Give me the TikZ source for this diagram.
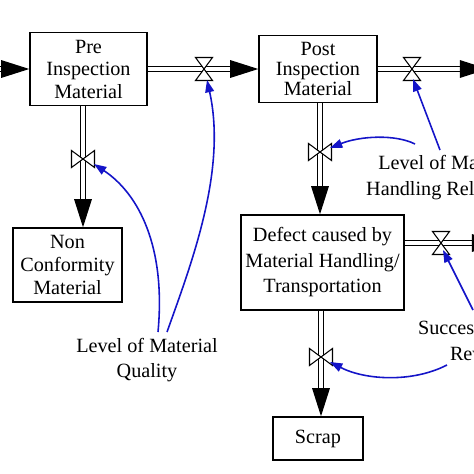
\documentclass[tikz,border=0pt]{standalone}
\usepackage{fontspec}
\setmainfont{Liberation Serif}
\usetikzlibrary{arrows.meta,calc}
\definecolor{linkblue}{RGB}{20,20,200}

\begin{document}
\begin{tikzpicture}[
    x=0.02cm, y=-0.02cm,
    every node/.style={align=center, inner sep=0pt, font=\fontsize{11.5}{13}\selectfont},
    stock/.style={draw, line width=0.8pt},
    label/.style={font=\fontsize{11.5}{14.5}\selectfont},
    flow/.style={double, double distance=1.8pt, line width=0.7pt, -{Triangle[length=16pt,width=10pt]}},
    link/.style={linkblue, line width=0.9pt, -{Triangle[length=7pt,width=5pt]}},
    valve/.pic={\draw[fill=white, line width=0.6pt] (-8.5,-11.5) -- (8.5,-11.5) -- (-8.5,11.5) -- (8.5,11.5) -- cycle;}
]
\useasboundingbox (0,0) rectangle (474,474);
\clip (0,0) rectangle (474,474);

% stocks
\node[stock, minimum width=2.34cm, minimum height=1.46cm, font=\fontsize{11.5}{12.8}\selectfont] (pre) at (88.5,69) {Pre\\Inspection\\Material};
\node[stock, minimum width=2.36cm, minimum height=1.34cm, font=\fontsize{11.5}{11.5}\selectfont] (post) at (318,69) {Post\\Inspection\\Material};
\node[stock, minimum width=2.18cm, minimum height=1.48cm] (nc) at (67.5,265) {Non\\Conformity\\Material};
\node[stock, minimum width=3.26cm, minimum height=1.9cm, font=\fontsize{11.5}{14.5}\selectfont] (defect) at (322.5,262.5) {Defect caused by\\Material Handling/\\Transportation};
\node[stock, minimum width=1.8cm, minimum height=0.86cm] (scrap) at (318,438.5) {Scrap};

% auxiliaries
\node[label] (lmq) at (147,360) {Level of Material\\Quality};
\node[label] (lmhr) at (449,177.5) {Level of Material\\Handling Reliability};
\node[label] (succ) at (482,340.5) {Success Rate of\\Rework};

% valves and clouds
\coordinate (src) at (-20,69);
\coordinate (sink1) at (488,69);
\coordinate (sink2) at (500,243);
\coordinate (v2) at (204,69);
\coordinate (v1) at (412,69);
\coordinate (v3) at (83,159);
\coordinate (v4) at (320,152);
\coordinate (v5) at (441,243);
\coordinate (v6) at (321,357);

% flows
\draw[flow] (src) -- (pre.west);
\draw[flow] (pre.east) -- (post.west);
\draw[flow] (post.east) -- (sink1);
\draw[flow] (v3 |- pre.south) -- (v3 |- nc.north);
\draw[flow] (v4 |- post.south) -- (v4 |- defect.north);
\draw[flow] (defect.east |- v5) -- (sink2);
\draw[flow] (v6 |- defect.south) -- (v6 |- scrap.north);

\pic at (v1) {valve};
\pic at (v2) {valve};
\pic at (v5) {valve};
\pic[rotate=90] at (v3) {valve};
\pic[rotate=90] at (v4) {valve};
\pic[rotate=90] at (v6) {valve};

% links
\draw[link] ($(lmq.center)+(11,-28)$) .. controls +(8,-85) and +(45,30) .. ($(v3)+(11,5)$);
\draw[link] ($(lmq.center)+(20,-28)$) .. controls +(25,-70) and +(20,90) .. ($(v2)+(3,11)$);
\draw[link] ($(lmhr.center)+(-34,-33.5)$) .. controls +(-20,-10) and +(30,-12) .. ($(v4)+(10,-4)$);
\draw[link] ($(lmhr.center)+(-9,-27.5)$) -- ($(v1)+(1,10)$);
\draw[link] ($(succ.center)+(-9,-30.5)$) -- ($(v5)+(2,7)$);
\draw[link] ($(succ.center)+(-35,24.5)$) .. controls +(-35,18) and +(35,18) .. ($(v6)+(9,5)$);
\end{tikzpicture}
\end{document}
